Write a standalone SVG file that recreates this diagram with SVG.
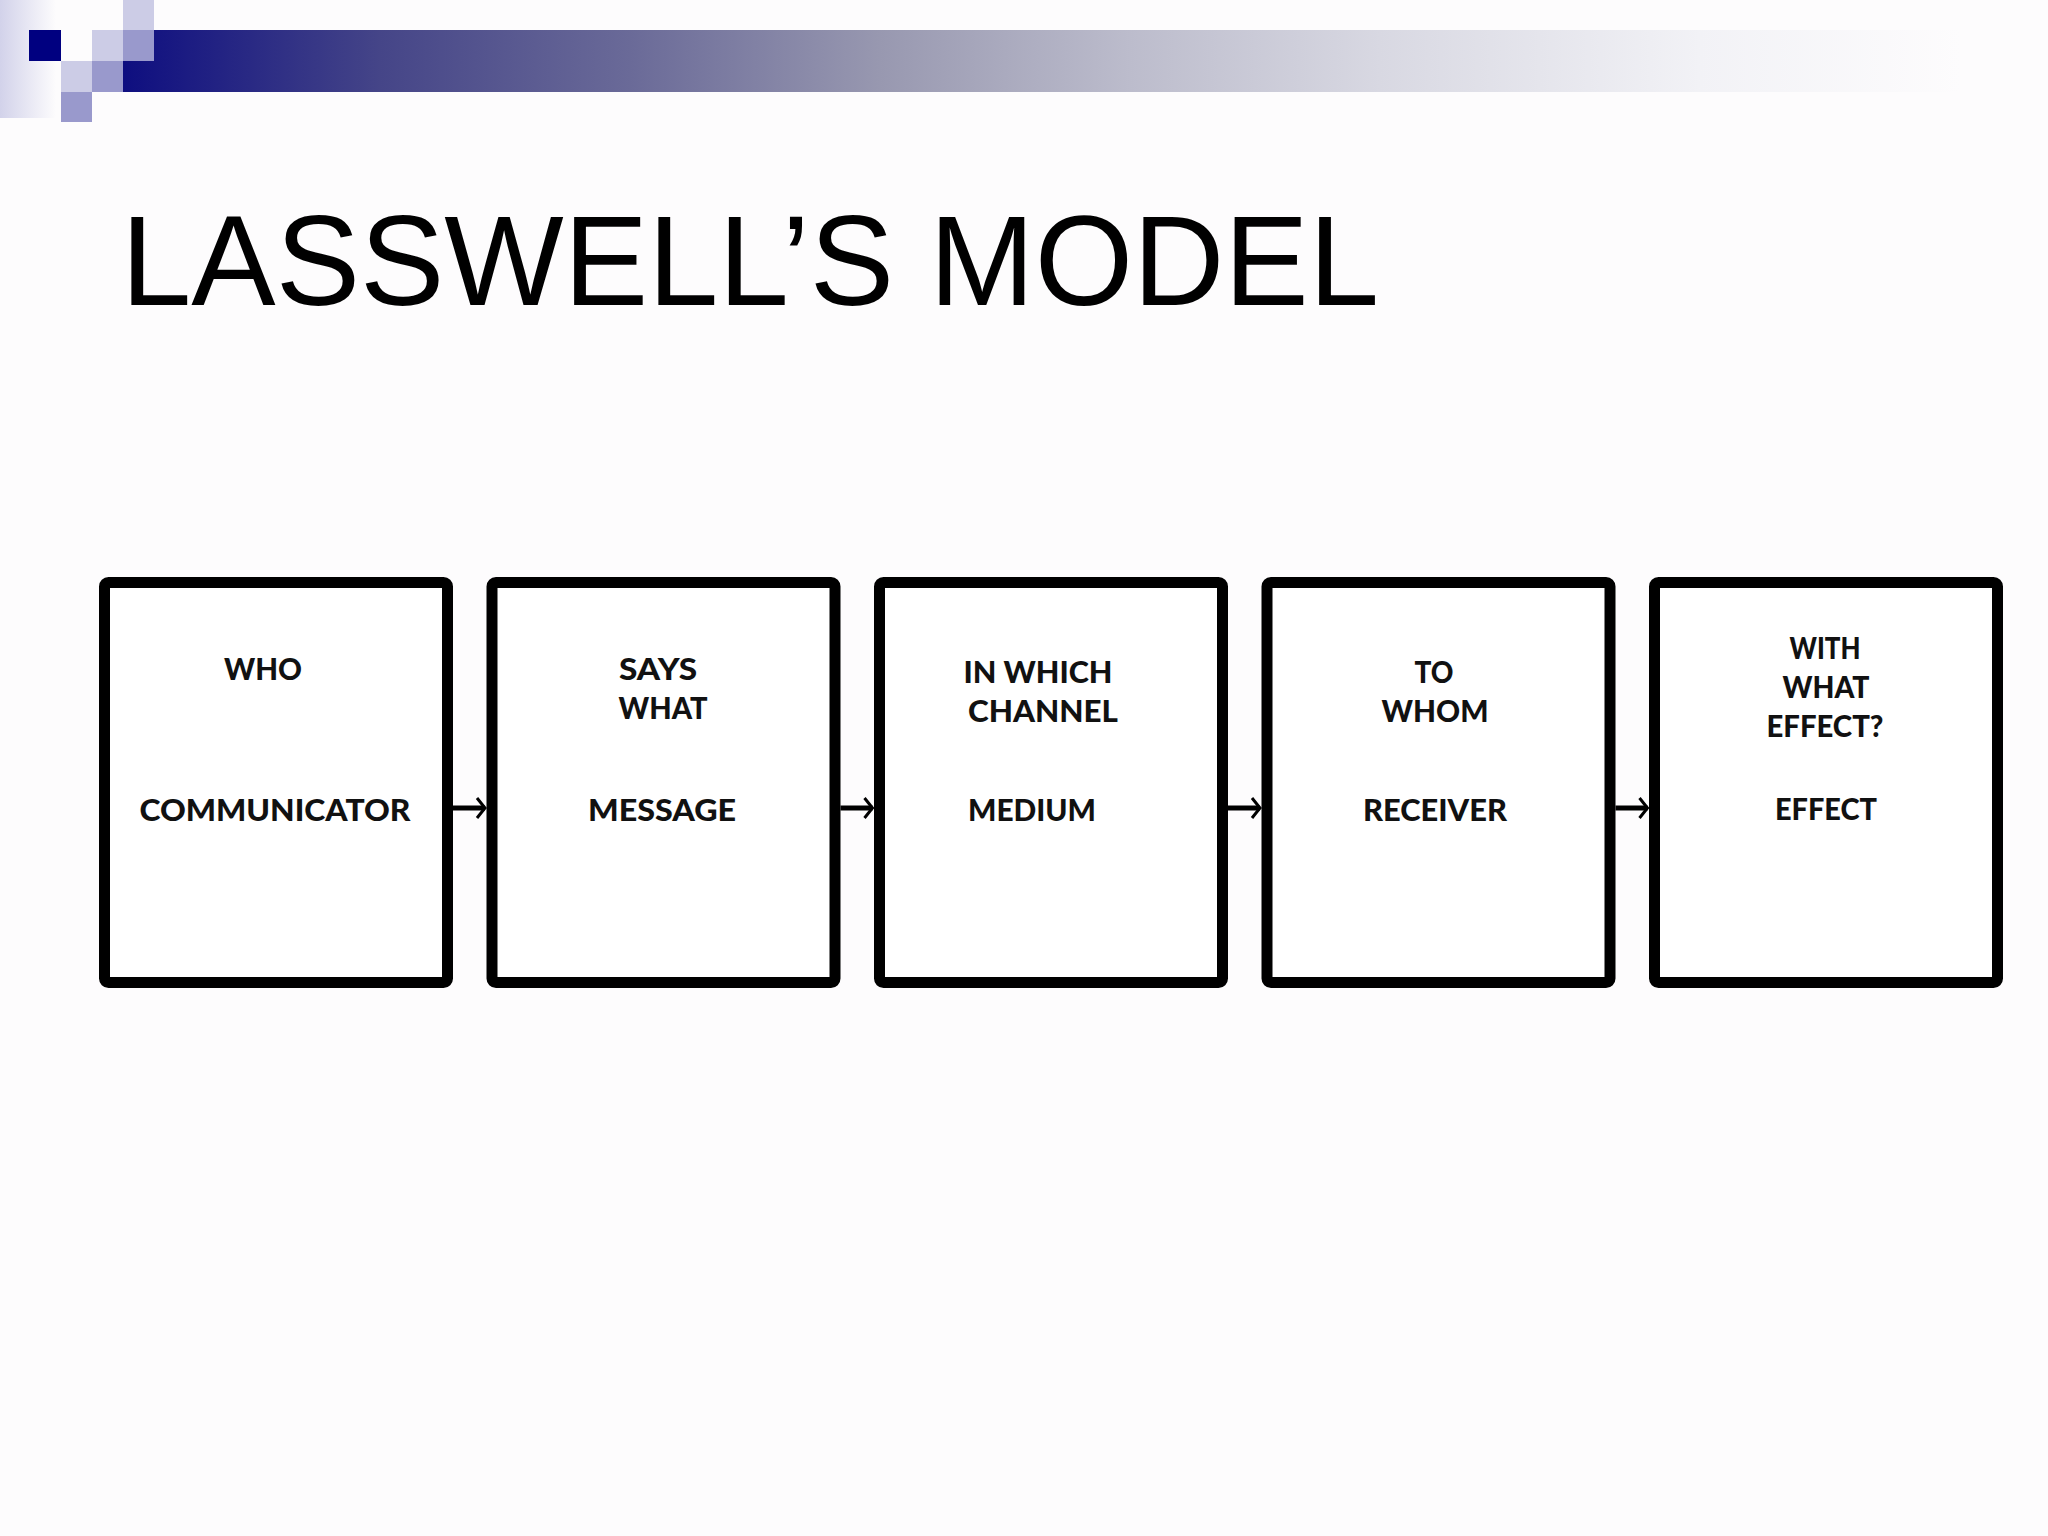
<svg xmlns="http://www.w3.org/2000/svg" width="2048" height="1536" viewBox="0 0 2048 1536">
<defs>
<linearGradient id="bar" gradientUnits="userSpaceOnUse" x1="123" y1="0" x2="1960" y2="0">
<stop offset="0" stop-color="#0e0e80"/>
<stop offset="0.14" stop-color="#454588"/>
<stop offset="0.276" stop-color="#6a6a98"/>
<stop offset="0.412" stop-color="#9898b0"/>
<stop offset="0.548" stop-color="#bcbccc"/>
<stop offset="0.684" stop-color="#d8d8e2"/>
<stop offset="0.858" stop-color="#f2f2f6"/>
<stop offset="1" stop-color="#fdfcfd"/>
</linearGradient>
<linearGradient id="side" x1="0" y1="0" x2="1" y2="0">
<stop offset="0" stop-color="#d2d2ea"/>
<stop offset="1" stop-color="#fdfcfd"/>
</linearGradient>
<marker id="arr" markerWidth="12" markerHeight="22" refX="10" refY="11" orient="auto" markerUnits="userSpaceOnUse">
<path d="M2,1 L10,11 L2,21" fill="none" stroke="#000" stroke-width="3"/>
</marker>
</defs>
<style>
.box{fill:#fff;stroke:#000;stroke-width:11;stroke-linejoin:round}
.t{font-family:Lato,"Liberation Sans",sans-serif;font-weight:900;font-size:30px;fill:#111;text-anchor:middle}
.title{font-family:"Liberation Sans",Arial,sans-serif;font-size:128px;fill:#000}
.con{stroke:#000;stroke-width:5;fill:none}
</style>
<rect width="2048" height="1536" fill="#fdfcfd"/>
<g id="decoration">
<rect x="0" y="0" width="56" height="118" fill="url(#side)"/>
<rect x="123" y="30" width="1837" height="62" fill="url(#bar)"/>
<rect x="29" y="30" width="32" height="31" fill="#000080"/>
<rect x="123" y="0" width="31" height="30" fill="#ccccE6"/>
<rect x="92" y="30" width="31" height="31" fill="#ccccE6"/>
<rect x="123" y="30" width="31" height="31" fill="#9999cc"/>
<rect x="61" y="61" width="31" height="31" fill="#ccccE6"/>
<rect x="92" y="61" width="31" height="31" fill="#9999cc"/>
<rect x="61" y="92" width="31" height="30" fill="#9999cc"/>
</g>
<text id="title" class="title" x="121" y="305" textLength="1258" lengthAdjust="spacingAndGlyphs">LASSWELL’S MODEL</text>
<g id="connectors">
<line class="con" x1="453" y1="808" x2="485" y2="808" marker-end="url(#arr)"/>
<line class="con" x1="840.5" y1="808" x2="872.5" y2="808" marker-end="url(#arr)"/>
<line class="con" x1="1228" y1="808" x2="1260" y2="808" marker-end="url(#arr)"/>
<line class="con" x1="1615.5" y1="808" x2="1647.5" y2="808" marker-end="url(#arr)"/>
</g>
<g id="node-who">
<rect class="box" x="104.5" y="582.5" width="343" height="400" rx="4"/>
<text class="t" x="263" y="680" textLength="78" lengthAdjust="spacingAndGlyphs">WHO</text>
<text class="t" x="275" y="821" textLength="271" lengthAdjust="spacingAndGlyphs">COMMUNICATOR</text>
</g>
<g id="node-says-what">
<rect class="box" x="492" y="582.5" width="343" height="400" rx="4"/>
<text class="t" x="658" y="680" textLength="78" lengthAdjust="spacingAndGlyphs">SAYS</text>
<text class="t" x="663" y="719" textLength="89" lengthAdjust="spacingAndGlyphs">WHAT</text>
<text class="t" x="662" y="821" textLength="148" lengthAdjust="spacingAndGlyphs">MESSAGE</text>
</g>
<g id="node-channel">
<rect class="box" x="879.5" y="582.5" width="343" height="400" rx="4"/>
<text class="t" x="1038" y="683" textLength="149" lengthAdjust="spacingAndGlyphs">IN WHICH</text>
<text class="t" x="1043" y="722" textLength="150" lengthAdjust="spacingAndGlyphs">CHANNEL</text>
<text class="t" x="1032" y="821" textLength="128" lengthAdjust="spacingAndGlyphs">MEDIUM</text>
</g>
<g id="node-whom">
<rect class="box" x="1267" y="582.5" width="343" height="400" rx="4"/>
<text class="t" x="1434" y="683" textLength="39" lengthAdjust="spacingAndGlyphs">TO</text>
<text class="t" x="1435" y="722" textLength="107" lengthAdjust="spacingAndGlyphs">WHOM</text>
<text class="t" x="1435" y="821" textLength="144" lengthAdjust="spacingAndGlyphs">RECEIVER</text>
</g>
<g id="node-effect">
<rect class="box" x="1654.5" y="582.5" width="343" height="400" rx="4"/>
<text class="t" x="1825" y="659" textLength="71" lengthAdjust="spacingAndGlyphs">WITH</text>
<text class="t" x="1826" y="698" textLength="87" lengthAdjust="spacingAndGlyphs">WHAT</text>
<text class="t" x="1825" y="737" textLength="117" lengthAdjust="spacingAndGlyphs">EFFECT?</text>
<text class="t" x="1826" y="820" textLength="102" lengthAdjust="spacingAndGlyphs">EFFECT</text>
</g>
</svg>
